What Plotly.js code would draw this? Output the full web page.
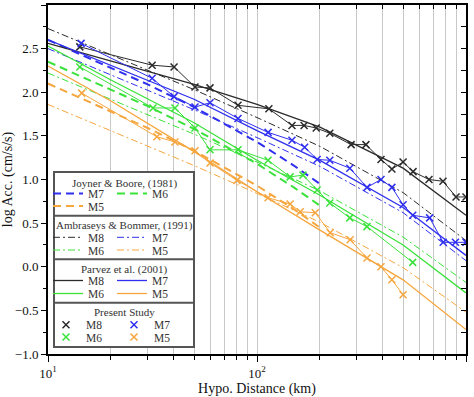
<!DOCTYPE html>
<html><head><meta charset="utf-8">
<script src="https://cdn.plot.ly/plotly-3.0.1.min.js"></script>
<style>html,body{margin:0;padding:0;background:#fff}#chart{width:474px;height:397px}</style>
</head><body><div id="chart"></div>
<script>
// ---- data ----
const jbDist = [10, 20, 30, 50, 70, 100, 150, 200];
const jbM7 = [2.60, 2.28, 2.09, 1.83, 1.64, 1.43, 1.16, 0.95];
const jbM6 = [2.35, 2.03, 1.84, 1.58, 1.39, 1.18, 0.91, 0.70];
const jbM5 = [2.10, 1.78, 1.59, 1.33, 1.14, 0.93, 0.66, 0.45];

const curveDist = [10, 20, 50, 100, 200, 500, 1000];
const abM8 = [2.73, 2.43, 2.03, 1.71, 1.38, 0.85, 0.30];
const abM7 = [2.50, 2.20, 1.80, 1.48, 1.15, 0.62, 0.07];
const abM6 = [2.22, 1.92, 1.52, 1.20, 0.87, 0.34, -0.18];
const abM5 = [1.86, 1.56, 1.16, 0.84, 0.51, -0.01, -0.52];

const pvM8 = [2.56, 2.36, 2.09, 1.86, 1.60, 1.13, 0.59];
const pvM7 = [2.60, 2.31, 1.92, 1.56, 1.22, 0.68, 0.13];
const pvM6 = [2.53, 2.14, 1.65, 1.22, 0.82, 0.25, -0.30];
const pvM5 = [2.30, 1.90, 1.32, 0.86, 0.42, -0.15, -0.72];

const psM8Dist = [14.2, 31.5, 40.1, 50.5, 59.6, 81.1, 114, 147, 168, 192, 223, 282, 332, 392, 442, 500, 558, 665, 776, 896, 1000];
const psM8 = [2.52, 2.31, 2.29, 2.06, 2.05, 1.85, 1.81, 1.62, 1.62, 1.59, 1.53, 1.40, 1.40, 1.23, 1.12, 1.20, 1.09, 1.00, 0.98, 0.80, 0.80];
const psM7Dist = [14.4, 31.5, 40.1, 50.5, 59.6, 81.1, 113, 147, 169, 194, 223, 278, 336, 392, 442, 500, 556, 670, 778, 890, 1000];
const psM7 = [2.56, 2.16, 1.95, 1.83, 1.88, 1.70, 1.54, 1.45, 1.37, 1.23, 1.22, 1.13, 0.91, 1.00, 0.91, 0.71, 0.59, 0.56, 0.28, 0.28, 0.28];
const psM6Dist = [14.2, 31.8, 40.5, 50.5, 59.6, 81.1, 113, 144, 166, 194, 223, 278, 336, 556];
const psM6 = [2.29, 1.82, 1.82, 1.59, 1.34, 1.34, 1.22, 1.03, 1.05, 0.88, 0.73, 0.56, 0.46, 0.05];
const psM5Dist = [14.5, 33.2, 40.5, 50.5, 59.6, 80.2, 113, 144, 161, 190, 224, 279, 336, 392, 442, 500];
const psM5 = [1.99, 1.49, 1.43, 1.33, 1.19, 0.99, 0.79, 0.72, 0.63, 0.62, 0.39, 0.31, 0.10, 0.00, -0.15, -0.32];

const xTickVals = [10, 100, 1000];
const xTickText = ['10<sup>1</sup>', '10<sup>2</sup>', '10<sup>3</sup>'];
const xMinorVals = [20, 30, 40, 50, 60, 70, 80, 90, 200, 300, 400, 500, 600, 700, 800, 900];

// ---- styling ----
const C = {k: '#2b2b2b', b: '#2f2ff0', g: '#3ae23a', o: '#f6a63e'};
const FONT = "'Liberation Serif', 'Times New Roman', Times, serif";
const traces = [];
function line(x, y, name, color, dash, width, legend) {
  traces.push({x: x, y: y, name: name, type: 'scatter', mode: 'lines',
    line: {color: color, dash: dash, width: width}, legend: legend, showlegend: !!legend, hoverinfo: 'skip'});
}
function pts(x, y, name, color, legend) {
  traces.push({x: x, y: y, name: name, type: 'scatter', mode: 'lines', line: {color: color, width: 1}, showlegend: false, hoverinfo: 'skip'});
  traces.push({x: x, y: y, name: name, type: 'scatter', mode: 'markers', legend: legend,
    marker: {symbol: 'x-thin-open', size: 7, color: color, line: {color: color, width: 1.5}}, hoverinfo: 'skip'});
}
const JBD = '8px,5px', ABD = '7px,3px,2px,3px';
// JB
line(jbDist, jbM7, 'M7', C.b, JBD, 2, 'legend');
line(jbDist, jbM6, 'M6', C.g, JBD, 2, 'legend2');
line(jbDist, jbM5, 'M5', C.o, JBD, 2, 'legend3');
// AB
line(curveDist, abM8, 'M8', C.k, ABD, 1, 'legend4');
line(curveDist, abM7, 'M7', C.b, ABD, 1, 'legend5');
line(curveDist, abM6, 'M6', C.g, ABD, 1, 'legend6');
line(curveDist, abM5, 'M5', C.o, ABD, 1, 'legend7');
// Parvez
line(curveDist, pvM8, 'M8', C.k, 'solid', 1.3, 'legend8');
line(curveDist, pvM7, 'M7', C.b, 'solid', 1.3, 'legend9');
line(curveDist, pvM6, 'M6', C.g, 'solid', 1.3, 'legend10');
line(curveDist, pvM5, 'M5', C.o, 'solid', 1.3, 'legend11');
// Present
pts(psM8Dist, psM8, 'M8', C.k, 'legend12');
pts(psM7Dist, psM7, 'M7', C.b, 'legend13');
pts(psM6Dist, psM6, 'M6', C.g, 'legend14');
pts(psM5Dist, psM5, 'M5', C.o, 'legend15');

// legend slot layout (paper coords)
const L = 48, T = 5, W = 418, H = 349;
const px = v => (v - L) / W, py = v => (T + H - v) / H;
const colL = px(48), colR = px(112), mkL = px(46), mkR = px(114);
const slots = [
  ['legend', colL, 193.5], ['legend2', colR, 193.5], ['legend3', colL, 206],
  ['legend4', colL, 237.3], ['legend5', colR, 237.3], ['legend6', colL, 250], ['legend7', colR, 250],
  ['legend8', colL, 280.5], ['legend9', colR, 280.5], ['legend10', colL, 293.5], ['legend11', colR, 293.5],
  ['legend12', mkL, 324.7], ['legend13', mkR, 324.7], ['legend14', mkL, 337], ['legend15', mkR, 337]
];

const layout = {
  width: 474, height: 397,
  margin: {l: L, r: 474 - L - W, t: T, b: 397 - T - H, autoexpand: false},
  paper_bgcolor: '#fff', plot_bgcolor: '#fff',
  font: {family: FONT, size: 13, color: '#111'},
  xaxis: {
    type: 'log', range: [1, 3], tickmode: 'array', tickvals: xTickVals, ticktext: xTickText,
    ticks: 'outside', ticklen: 6, tickwidth: 1, tickcolor: '#000',
    showgrid: true, gridcolor: '#c8c8c8', gridwidth: 1,
    minor: {tickmode: 'array', tickvals: xMinorVals, ticks: 'outside', ticklen: 4, tickcolor: '#000', showgrid: true, gridcolor: '#c8c8c8', gridwidth: 1},
    showline: true, linecolor: '#000', linewidth: 2, mirror: true, zeroline: false,
    tickfont: {family: FONT, size: 13, color: '#111'},
    title: {text: 'Hypo. Distance (km)', font: {family: FONT, size: 14, color: '#111'}, standoff: 8}
  },
  yaxis: {
    range: [-1, 3], dtick: 0.5, tick0: 0, tickformat: '.1f',
    ticks: 'outside', ticklen: 5, tickwidth: 1, tickcolor: '#000',
    minor: {dtick: 0.25, ticks: 'outside', ticklen: 3, tickcolor: '#000'},
    showgrid: false, zeroline: false,
    showline: true, linecolor: '#000', linewidth: 2, mirror: true,
    tickfont: {family: FONT, size: 13, color: '#111'},
    title: {text: 'log Acc. (cm/s/s)', font: {family: FONT, size: 14, color: '#111'}, standoff: 6}
  },
  xaxis2: {type: 'log', range: [1, 3], overlaying: 'x', side: 'top', tickmode: 'array',
    tickvals: xTickVals.concat(xMinorVals), ticks: 'inside', ticklen: 4, tickcolor: '#000',
    showticklabels: false, showgrid: false, showline: false, zeroline: false},
  yaxis2: {range: [-1, 3], overlaying: 'y', side: 'right', dtick: 0.25, tick0: 0, ticks: 'inside', ticklen: 5,
    tickcolor: '#000', showticklabels: false, showgrid: false, showline: false, zeroline: false},
  shapes: [
    {type: 'rect', xref: 'paper', yref: 'paper', x0: px(54), x1: px(194), y0: py(347), y1: py(172),
      fillcolor: '#fff', line: {color: '#555', width: 2}, layer: 'above'},
    {type: 'line', xref: 'paper', yref: 'paper', x0: px(54), x1: px(194), y0: py(215.7), y1: py(215.7), line: {color: '#555', width: 2}, layer: 'above'},
    {type: 'line', xref: 'paper', yref: 'paper', x0: px(54), x1: px(194), y0: py(259.3), y1: py(259.3), line: {color: '#555', width: 2}, layer: 'above'},
    {type: 'line', xref: 'paper', yref: 'paper', x0: px(54), x1: px(194), y0: py(302.7), y1: py(302.7), line: {color: '#555', width: 2}, layer: 'above'}
  ],
  annotations: [
    ['Joyner &amp; Boore, (1981)', 183], ['Ambraseys &amp; Bommer, (1991)', 225.7],
    ['Parvez et al. (2001)', 269], ['Present Study', 312.3]
  ].map(a => ({text: a[0], xref: 'paper', yref: 'paper', x: px(124), y: py(a[1]), xanchor: 'center', yanchor: 'middle',
    showarrow: false, font: {family: FONT, size: 11, color: '#333'}}))
};
slots.forEach(s => {
  layout[s[0]] = {x: s[1], y: py(s[2]), xanchor: 'left', yanchor: 'middle', bgcolor: 'rgba(0,0,0,0)', borderwidth: 0,
    font: {family: FONT, size: 11.5, color: '#333'}, itemwidth: 30};
});
// invisible point so the mirrored overlay axes are drawn
traces.push({x: [10], y: [0], xaxis: 'x2', yaxis: 'y2', mode: 'markers', marker: {opacity: 0}, showlegend: false, hoverinfo: 'skip'});

Plotly.newPlot('chart', traces, layout, {displayModeBar: false, staticPlot: true});
</script></body></html>
